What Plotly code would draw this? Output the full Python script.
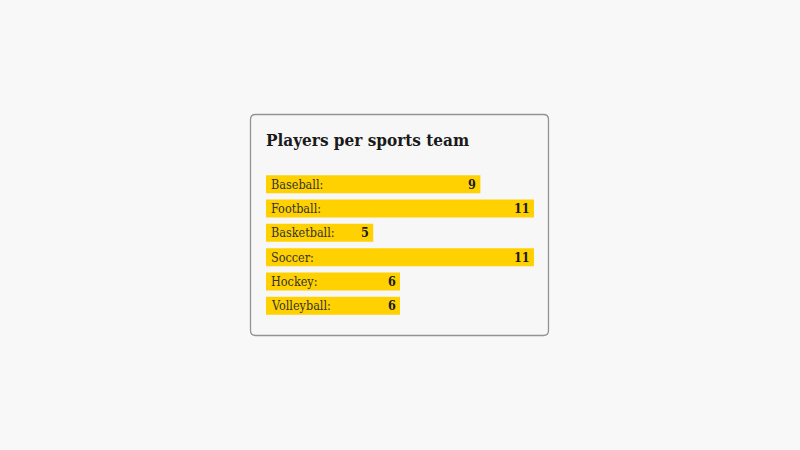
import plotly.graph_objects as go

categories = ["Baseball", "Football", "Basketball", "Soccer", "Hockey", "Volleyball"]
players = [9, 11, 5, 11, 6, 6]
title_text = "Players per sports team"

W, H = 800, 450
L, R = 266, 534
T, B = 172, 318
pw, ph = R - L, B - T

FONT = "DejaVu Serif Condensed, DejaVu Serif"
YELLOW = "#FFD100"
BG = "#f8f8f8"

fig = go.Figure()
fig.add_trace(go.Bar(
    y=categories, x=players, orientation="h",
    marker=dict(color=YELLOW, line=dict(width=0)),
    hoverinfo="skip",
))
xmin = 1

for c, v in zip(categories, players):
    fig.add_annotation(x=xmin, y=c, xref="x", yref="y", text=c + ":",
                       xanchor="left", yanchor="middle", xshift=3, showarrow=False,
                       font=dict(family=FONT, size=12.5, color="#333333"))
    fig.add_annotation(x=v, y=c, xref="x", yref="y", text=f"<b>{v}</b>",
                       xanchor="right", yanchor="middle", xshift=-2, showarrow=False,
                       font=dict(family=FONT, size=12.5, color="#1a1a1a"))

# card outline in paper coords
def px(x):
    return (x - L) / pw

def py(y):
    return (B - y) / ph

cx0, cx1, cy0, cy1, r = 250.5, 548.5, 114.5, 335.5, 5
path = (
    f"M {px(cx0 + r)} {py(cy0)} L {px(cx1 - r)} {py(cy0)} "
    f"Q {px(cx1)} {py(cy0)} {px(cx1)} {py(cy0 + r)} "
    f"L {px(cx1)} {py(cy1 - r)} Q {px(cx1)} {py(cy1)} {px(cx1 - r)} {py(cy1)} "
    f"L {px(cx0 + r)} {py(cy1)} Q {px(cx0)} {py(cy1)} {px(cx0)} {py(cy1 - r)} "
    f"L {px(cx0)} {py(cy0 + r)} Q {px(cx0)} {py(cy0)} {px(cx0 + r)} {py(cy0)} Z"
)
fig.add_shape(type="path", path=path, xref="paper", yref="paper",
              line=dict(color="#939393", width=1.3), fillcolor="#f7f7f7", layer="below")

fig.add_annotation(text=f"<b>{title_text}</b>", xref="paper", yref="paper",
                   x=0, y=py(140), xanchor="left", yanchor="middle", xshift=-2,
                   showarrow=False,
                   font=dict(family=FONT, size=17, color="#1a1a1a"))

fig.update_layout(
    width=W, height=H,
    margin=dict(l=L, r=W - R, t=T, b=H - B, pad=0),
    paper_bgcolor=BG, plot_bgcolor="rgba(0,0,0,0)",
    showlegend=False, bargap=0.26,
    xaxis=dict(range=[xmin, max(players)], visible=False, fixedrange=True),
    yaxis=dict(autorange="reversed", visible=False, fixedrange=True),
)
fig.write_html(
    "out.html",
    config={"displayModeBar": False},
    post_script=f"document.body.style.margin='0';document.body.style.background='{BG}';",
)
